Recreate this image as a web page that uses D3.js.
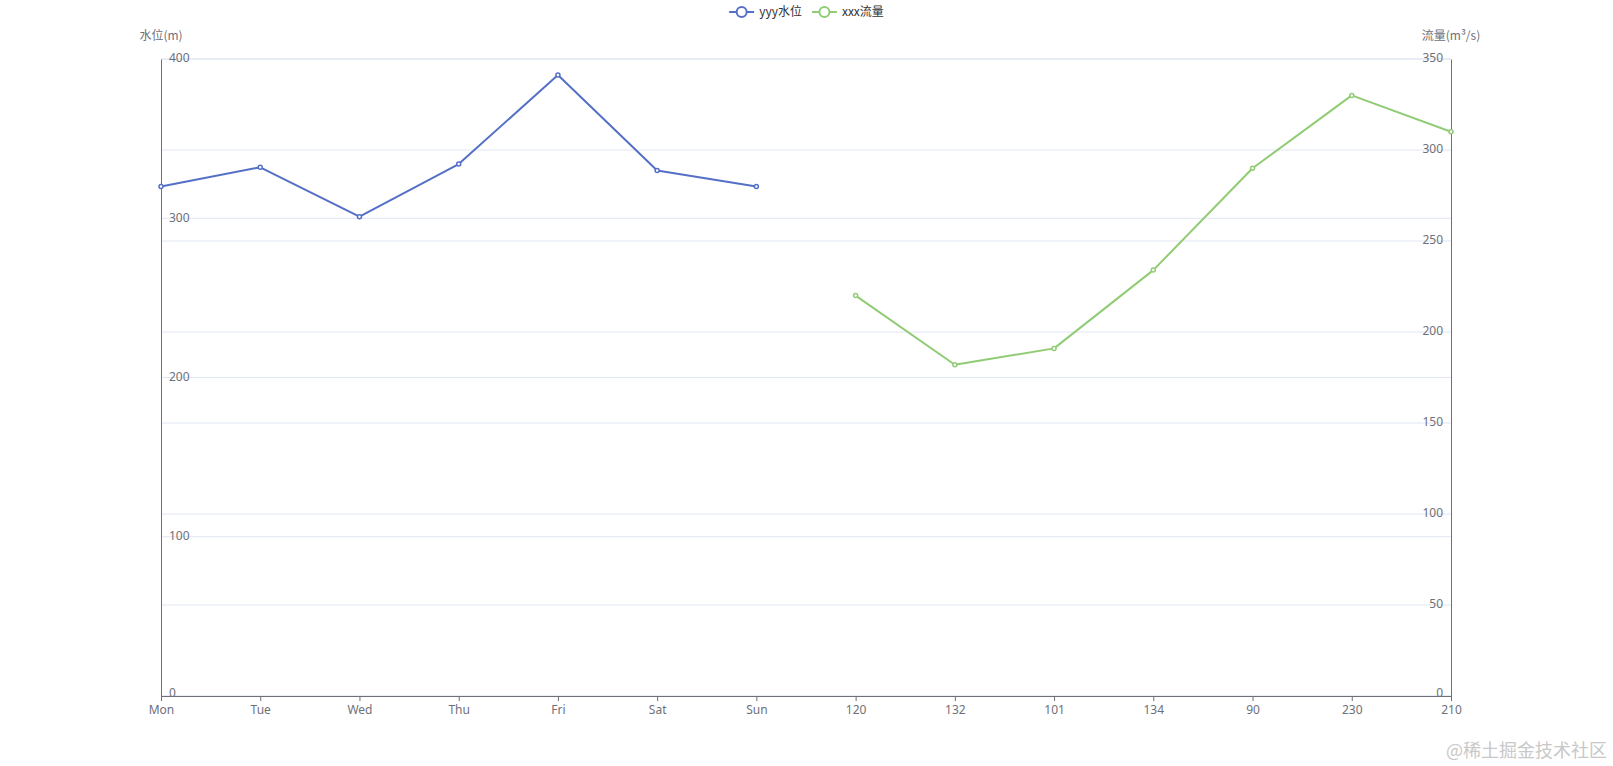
<!DOCTYPE html>
<html>
<head>
<meta charset="utf-8">
<script src="https://cdn.jsdelivr.net/npm/d3@7"></script>
<style>
  body { margin: 0; background: #fff; }
  text { font-family: "Microsoft YaHei", "Noto Sans CJK SC", sans-serif; }
  .tick text { font-family: "Noto Sans", "Open Sans", sans-serif; }
</style>
</head>
<body>
<div id="chart"></div>
<script>
// categories on the shared x axis
var categories = ["Mon", "Tue", "Wed", "Thu", "Fri", "Sat", "Sun",
                  "120", "132", "101", "134", "90", "230", "210"];
// first series on the left axis (water level)
var levelCats = ["Mon", "Tue", "Wed", "Thu", "Fri", "Sat", "Sun"];
var levelValues = [320, 332, 301, 334, 390, 330, 320];
// second series on the right axis (flow)
var flowCats = ["120", "132", "101", "134", "90", "230", "210"];
var flowValues = [220, 182, 191, 234, 290, 330, 310];
var leftTicks = [0, 100, 200, 300, 400];
var rightTicks = [0, 50, 100, 150, 200, 250, 300, 350];

var svgWidth = 1613;
var svgHeight = 766;
var margin = { top: 59, bottom: 70, left: 161, right: 162 };
var width = svgWidth - margin.left - margin.right;
var height = svgHeight - margin.top - margin.bottom;

var axisColor = "#6E7079";
var gridColor = "#E0E6F1";
var blue = "#5470c6";
var green = "#91cc75";

var svg = d3.select("#chart")
  .append("svg")
  .attr("width", svgWidth)
  .attr("height", svgHeight);

var chartGroup = svg.append("g")
  .attr("transform", `translate(${margin.left}, ${margin.top})`);

// scales
var xScale = d3.scalePoint().domain(categories).range([0, width]).padding(0);
var yLeft = d3.scaleLinear().domain([0, 400]).range([height, 0]);
var yRight = d3.scaleLinear().domain([0, 350]).range([height, 0]);

// split lines for both value axes
chartGroup.selectAll(".gridL")
  .data(leftTicks)
  .enter()
  .append("line")
  .attr("x1", 0).attr("x2", width)
  .attr("y1", d => yLeft(d)).attr("y2", d => yLeft(d))
  .attr("stroke", gridColor);

chartGroup.selectAll(".gridR")
  .data(rightTicks)
  .enter()
  .append("line")
  .attr("x1", 0).attr("x2", width)
  .attr("y1", d => yRight(d)).attr("y2", d => yRight(d))
  .attr("stroke", gridColor);

// x axis
var xAxis = d3.axisBottom(xScale).tickSize(5).tickPadding(4);
var xg = chartGroup.append("g")
  .attr("transform", `translate(0, ${height})`)
  .call(xAxis);
xg.select(".domain").attr("stroke", axisColor);
xg.selectAll(".tick line").attr("stroke", axisColor);
xg.selectAll(".tick text")
  .attr("fill", axisColor)
  .style("font-size", "12px");

// left y axis, labels inside
var yAxisL = d3.axisLeft(yLeft).tickValues(leftTicks).tickSize(0).tickPadding(-8);
var ylg = chartGroup.append("g").call(yAxisL);
ylg.select(".domain").attr("stroke", axisColor);
ylg.selectAll(".tick text")
  .attr("fill", axisColor)
  .attr("text-anchor", "start")
  .attr("y", d => d === 0 ? -3 : -1)
  .style("font-size", "12px");

// right y axis, labels inside
var yAxisR = d3.axisRight(yRight).tickValues(rightTicks).tickSize(0).tickPadding(-8);
var yrg = chartGroup.append("g")
  .attr("transform", `translate(${width}, 0)`)
  .call(yAxisR);
yrg.select(".domain").attr("stroke", axisColor);
yrg.selectAll(".tick text")
  .attr("fill", axisColor)
  .attr("text-anchor", "end")
  .attr("y", d => d === 0 ? -3 : -1)
  .style("font-size", "12px");

// axis names
chartGroup.append("text")
  .attr("x", 0).attr("y", -19)
  .attr("text-anchor", "middle")
  .attr("fill", axisColor)
  .style("font-size", "12px")
  .text("水位(m)");

chartGroup.append("text")
  .attr("x", width).attr("y", -19)
  .attr("text-anchor", "middle")
  .attr("fill", axisColor)
  .style("font-size", "12px")
  .text("流量(m³/s)");

// series
function drawSeries(cats, values, yScale, color) {
  var pts = cats.map((c, i) => ({ c: c, v: values[i] }));
  var line = d3.line()
    .x(d => xScale(d.c))
    .y(d => yScale(d.v));
  chartGroup.append("path")
    .datum(pts)
    .attr("d", line)
    .attr("fill", "none")
    .attr("stroke", color)
    .attr("stroke-width", 2)
    .attr("stroke-linejoin", "bevel");
  chartGroup.selectAll(null)
    .data(pts)
    .enter()
    .append("circle")
    .attr("cx", d => xScale(d.c))
    .attr("cy", d => yScale(d.v))
    .attr("r", 2)
    .attr("fill", "#fff")
    .attr("stroke", color)
    .attr("stroke-width", 1.5);
}
drawSeries(levelCats, levelValues, yLeft, blue);
drawSeries(flowCats, flowValues, yRight, green);

// legend
var legendItems = [
  { name: "yyy水位", color: blue },
  { name: "xxx流量", color: green }
];
var legend = svg.append("g");
var lx = 0;
legendItems.forEach(function (item) {
  var g = legend.append("g").attr("transform", `translate(${lx}, 12)`);
  g.append("line")
    .attr("x1", 0).attr("x2", 25)
    .attr("y1", 0).attr("y2", 0)
    .attr("stroke", item.color)
    .attr("stroke-width", 2);
  g.append("circle")
    .attr("cx", 12.5).attr("cy", 0).attr("r", 5)
    .attr("fill", "#fff")
    .attr("stroke", item.color)
    .attr("stroke-width", 2);
  var t = g.append("text")
    .attr("x", 30).attr("y", 0)
    .attr("dy", "0.35em")
    .attr("fill", "#333")
    .style("font-size", "12px")
    .text(item.name);
  lx += 30 + t.node().getComputedTextLength() + 10;
});
var legendWidth = lx - 10;
legend.attr("transform", `translate(${(svgWidth - legendWidth) / 2}, 0)`);

// watermark
svg.append("text")
  .attr("x", 1607).attr("y", 757)
  .attr("text-anchor", "end")
  .attr("fill", "#c8c8c8")
  .style("font-size", "18px")
  .text("@稀土掘金技术社区");
</script>
</body>
</html>
